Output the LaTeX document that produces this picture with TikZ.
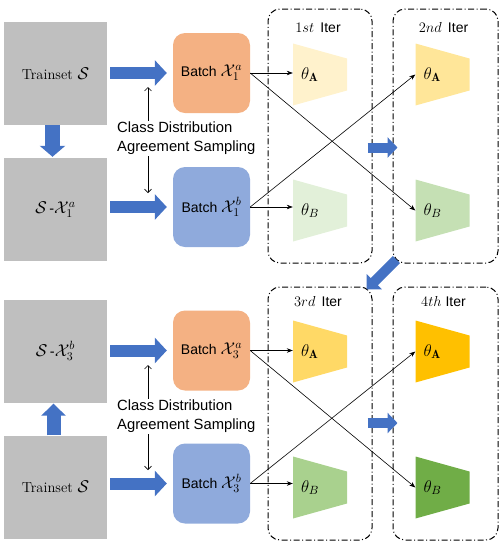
\RequirePackage{fix-cm}
\documentclass[tikz,border=0pt]{standalone}
\usepackage{fontspec}
\setsansfont{Liberation Sans}
\usetikzlibrary{arrows.meta,calc}
\definecolor{grayc}{HTML}{BFBFBF}
\definecolor{arrowblue}{HTML}{4472C4}
\definecolor{orangec}{HTML}{F4B183}
\definecolor{bluec}{HTML}{8FAADC}
\definecolor{ya1}{HTML}{FFF2CC}
\definecolor{ya2}{HTML}{FFE699}
\definecolor{ya3}{HTML}{FFD966}
\definecolor{ya4}{HTML}{FFC000}
\definecolor{gb1}{HTML}{E2F0D9}
\definecolor{gb2}{HTML}{C5E0B4}
\definecolor{gb3}{HTML}{A9D18E}
\definecolor{gb4}{HTML}{70AD47}
\newcommand\bigmath[1]{{\fontsize{17}{19}\selectfont$#1$}}
\newcommand\itermath[1]{{\fontsize{14.5}{16}\selectfont$#1$}}
\newcommand\modelshape[5]{%
  \fill[#4] (#2-27,#3-31) -- (#2+27,#3-16) -- (#2+27,#3+16) -- (#2-27,#3+31) -- cycle;
  \node[modelnode] (#1) at (#2,#3) {\hspace*{8pt}#5};}
\begin{document}
\begin{tikzpicture}[x=1pt,y=-1pt,
  graybox/.style={fill=grayc, minimum width=103pt, minimum height=103pt, inner sep=0pt, font=\fontsize{14.5}{16}\selectfont},
  batchbox/.style={rounded corners=12pt, minimum width=77pt, minimum height=80pt, inner sep=0pt, font=\sffamily\fontsize{14}{16}\selectfont},
  iterbox/.style={draw, rounded corners=12pt, line width=1pt, dash pattern=on 6pt off 2.5pt on 1pt off 2.5pt, minimum height=254pt, inner sep=0pt},
  iterlab/.style={font=\sffamily\fontsize{14}{15}\selectfont, inner sep=1pt},
  bigarrow/.style={draw=arrowblue, line width=12pt, -{Triangle[length=12pt,width=25pt]}},
  conn/.style={line width=0.6pt, -{Stealth[length=6pt,width=4.5pt]}},
  smallarrow/.style={line width=0.6pt, -{Straight Barb[length=3.5pt,width=7pt]}},
  cdlab/.style={anchor=west, align=left, font=\sffamily\fontsize{14.8}{19}\selectfont, inner sep=1pt},
  modelnode/.style={minimum width=54pt, minimum height=62pt, inner sep=0pt, text width=54pt, align=left, font=\fontsize{17}{19}\selectfont}
]
\useasboundingbox (0,0) rectangle (501,550);

% ---------- top half ----------
\node[graybox] (ts1) at (55.5,73.5) {Trainset \bigmath{\mathcal{S}}};
\node[graybox] (sx1) at (55.5,209.5) {\bigmath{\mathcal{S}}\,{\sffamily -}\bigmath{\mathcal{X}_1^a}};
\node[batchbox, fill=orangec] (b1a) at (211.5,73) {Batch \bigmath{\mathcal{X}_1^a}};
\node[batchbox, fill=bluec] (b1b) at (211.5,207) {Batch \bigmath{\mathcal{X}_1^b}};

\node[iterbox, minimum width=104pt] (it1) at (320,136) {};
\node[iterbox, minimum width=105pt] (it2) at (445.5,136) {};
\node[iterlab] (l1) at ($(it1.north)+(-2,19)$) {\itermath{1st} \,Iter};
\node[iterlab] (l2) at ($(it2.north)+(-2,19)$) {\itermath{2nd} \,Iter};

\modelshape{ta1}{320}{74.5}{ya1}{$\theta_{\mathbf{A}}$}
\modelshape{tb1}{320}{210.5}{gb1}{$\theta_B$}
\modelshape{ta2}{442.5}{74.5}{ya2}{$\theta_{\mathbf{A}}$}
\modelshape{tb2}{442.5}{210.5}{gb2}{$\theta_B$}

\draw[bigarrow, line width=15pt, -{Triangle[length=11pt,width=25pt]}, shorten >=1pt] ([xshift=-3pt]ts1.south) -- ([xshift=-3pt]sx1.north);
\draw[bigarrow, shorten <=3pt, shorten >=6pt] (ts1.east |- b1a.west) -- (b1a.west);
\draw[bigarrow, shorten <=3pt, shorten >=6pt] (sx1.east |- b1b.west) -- (b1b.west);

\node[cdlab] (cd1) at (116,138.5) {Class Distribution\\Agreement Sampling};
\coordinate (u1) at (148,87);
\coordinate (d1) at (148,193);
\draw[smallarrow] (cd1.north -| u1) -- (u1);
\draw[smallarrow] (cd1.south -| d1) -- (d1);

\draw[conn] (b1a.east) -- (b1a.east -| ta1.west);
\draw[conn] (b1a.east) -- (tb2.west);
\draw[conn] (b1b.east) -- (b1b.east -| tb1.west);
\draw[conn] (b1b.east) -- (ta2.west);

\draw[bigarrow, line width=10pt, -{Triangle[length=10pt,width=20pt]}] ($(it1.east)+(-5,11.5)$) -- ($(it2.west)+(5,11.5)$);

% ---------- bottom half ----------
\node[graybox] (sx3) at (55.5,351) {\bigmath{\mathcal{S}}\,{\sffamily -}\bigmath{\mathcal{X}_3^b}};
\node[graybox] (ts2) at (55.5,487) {Trainset \bigmath{\mathcal{S}}};
\node[batchbox, fill=orangec] (b3a) at (211.5,350.5) {Batch \bigmath{\mathcal{X}_3^a}};
\node[batchbox, fill=bluec] (b3b) at (211.5,483.5) {Batch \bigmath{\mathcal{X}_3^b}};

\node[iterbox, minimum width=104pt, minimum height=253pt] (it3) at (320,413.5) {};
\node[iterbox, minimum width=105pt, minimum height=253pt] (it4) at (445.5,413.5) {};
\node[iterlab] (l3) at ($(it3.north)+(-2,15)$) {\itermath{3rd} \,Iter};
\node[iterlab] (l4) at ($(it4.north)+(-2,15)$) {\itermath{4th} Iter};

\modelshape{ta3}{320}{351.5}{ya3}{$\theta_{\mathbf{A}}$}
\modelshape{tb3}{320}{487.5}{gb3}{$\theta_B$}
\modelshape{ta4}{442.5}{351.5}{ya4}{$\theta_{\mathbf{A}}$}
\modelshape{tb4}{442.5}{487.5}{gb4}{$\theta_B$}

\draw[bigarrow, line width=14pt, -{Triangle[length=12pt,width=24pt]}, shorten >=1pt] ([xshift=-2pt]ts2.north) -- ([xshift=-2pt]sx3.south);
\draw[bigarrow, shorten <=3pt, shorten >=6pt] (sx3.east |- b3a.west) -- (b3a.west);
\draw[bigarrow, shorten <=3pt, shorten >=6pt] (ts2.east |- b3b.west) -- (b3b.west);

\node[cdlab] (cd2) at (116,416.5) {Class Distribution\\Agreement Sampling};
\coordinate (u2) at (148,365);
\coordinate (d2) at (148,470);
\draw[smallarrow] (cd2.north -| u2) -- (u2);
\draw[smallarrow] (cd2.south -| d2) -- (d2);

\draw[conn] (b3a.east) -- (b3a.east -| ta3.west);
\draw[conn] (b3a.east) -- (tb4.west);
\draw[conn] (b3b.east) -- (b3b.east -| tb3.west);
\draw[conn] (b3b.east) -- (ta4.west);

\draw[bigarrow, line width=10pt, -{Triangle[length=10pt,width=20pt]}] ($(it3.east)+(-5,9.5)$) -- ($(it4.west)+(5,9.5)$);

% ---------- between rounds ----------
\draw[bigarrow, line width=10pt, -{Triangle[length=11pt,width=21pt]}] ($(it2.south west)+(4,-4)$) -- ($(it3.north east)+(-6,3)$);
\end{tikzpicture}
\end{document}
